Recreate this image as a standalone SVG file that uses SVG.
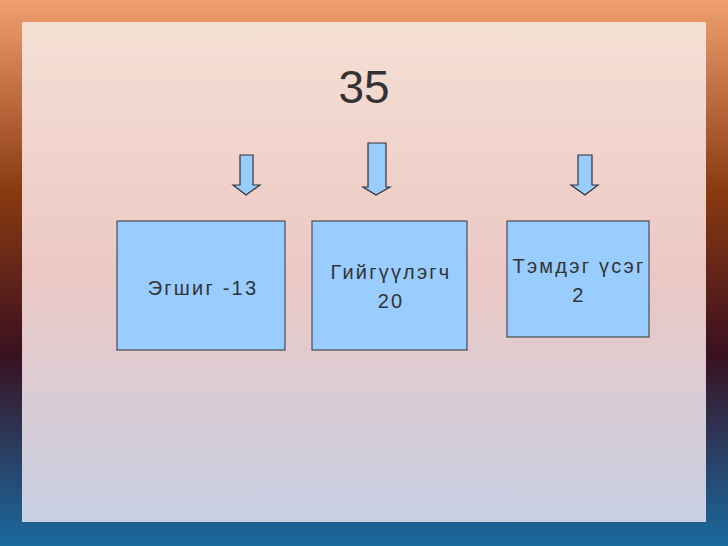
<svg xmlns="http://www.w3.org/2000/svg" width="728" height="546" viewBox="0 0 728 546">
<defs>
<linearGradient id="bg" x1="0" y1="0" x2="0" y2="1">
<stop offset="0" stop-color="#f0a070"/>
<stop offset="0.35" stop-color="#8a3a10"/>
<stop offset="0.65" stop-color="#3a1020"/>
<stop offset="1" stop-color="#1a6aa0"/>
</linearGradient>
<linearGradient id="panel" x1="0" y1="0" x2="0" y2="1">
<stop offset="0" stop-color="#f5e0d4"/>
<stop offset="0.5" stop-color="#ecc8c4"/>
<stop offset="1" stop-color="#c8d0e4"/>
</linearGradient>
<style>
.box{fill:#99ccff;stroke:#333;stroke-width:1}
.arr{fill:#99ccff;stroke:#333;stroke-width:1.2}
text{font-family:"Liberation Sans",Arial,sans-serif;fill:#333;text-anchor:middle}
.lbl{font-size:20px;letter-spacing:2.2px}
</style>
</defs>
<rect width="728" height="546" fill="url(#bg)"/>
<rect x="22" y="22" width="684" height="500" fill="url(#panel)"/>
<text x="364" y="103" style="font-size:46px">35</text>
<g id="connectors">
<polygon class="arr" points="240,155 253,155 253,185 260,185 246,195 233,185 240,185"/>
<polygon class="arr" points="368,143 386,143 386,187 390,187 376,195 363,187 368,187"/>
<polygon class="arr" points="578,155 592,155 592,185 598,185 585,195 571,185 578,185"/>
</g>
<g id="n1"><rect class="box" x="117" y="221" width="168" height="129"/><text class="lbl" x="203" y="295">Эгшиг -13</text></g>
<g id="n2"><rect class="box" x="312" y="221" width="155" height="129"/><text class="lbl" x="391" y="279">Гийгүүлэгч</text><text class="lbl" x="391" y="308">20</text></g>
<g id="n3"><rect class="box" x="507" y="221" width="142" height="116"/><text class="lbl" x="579" y="273">Тэмдэг үсэг</text><text class="lbl" x="579" y="302">2</text></g>
</svg>
